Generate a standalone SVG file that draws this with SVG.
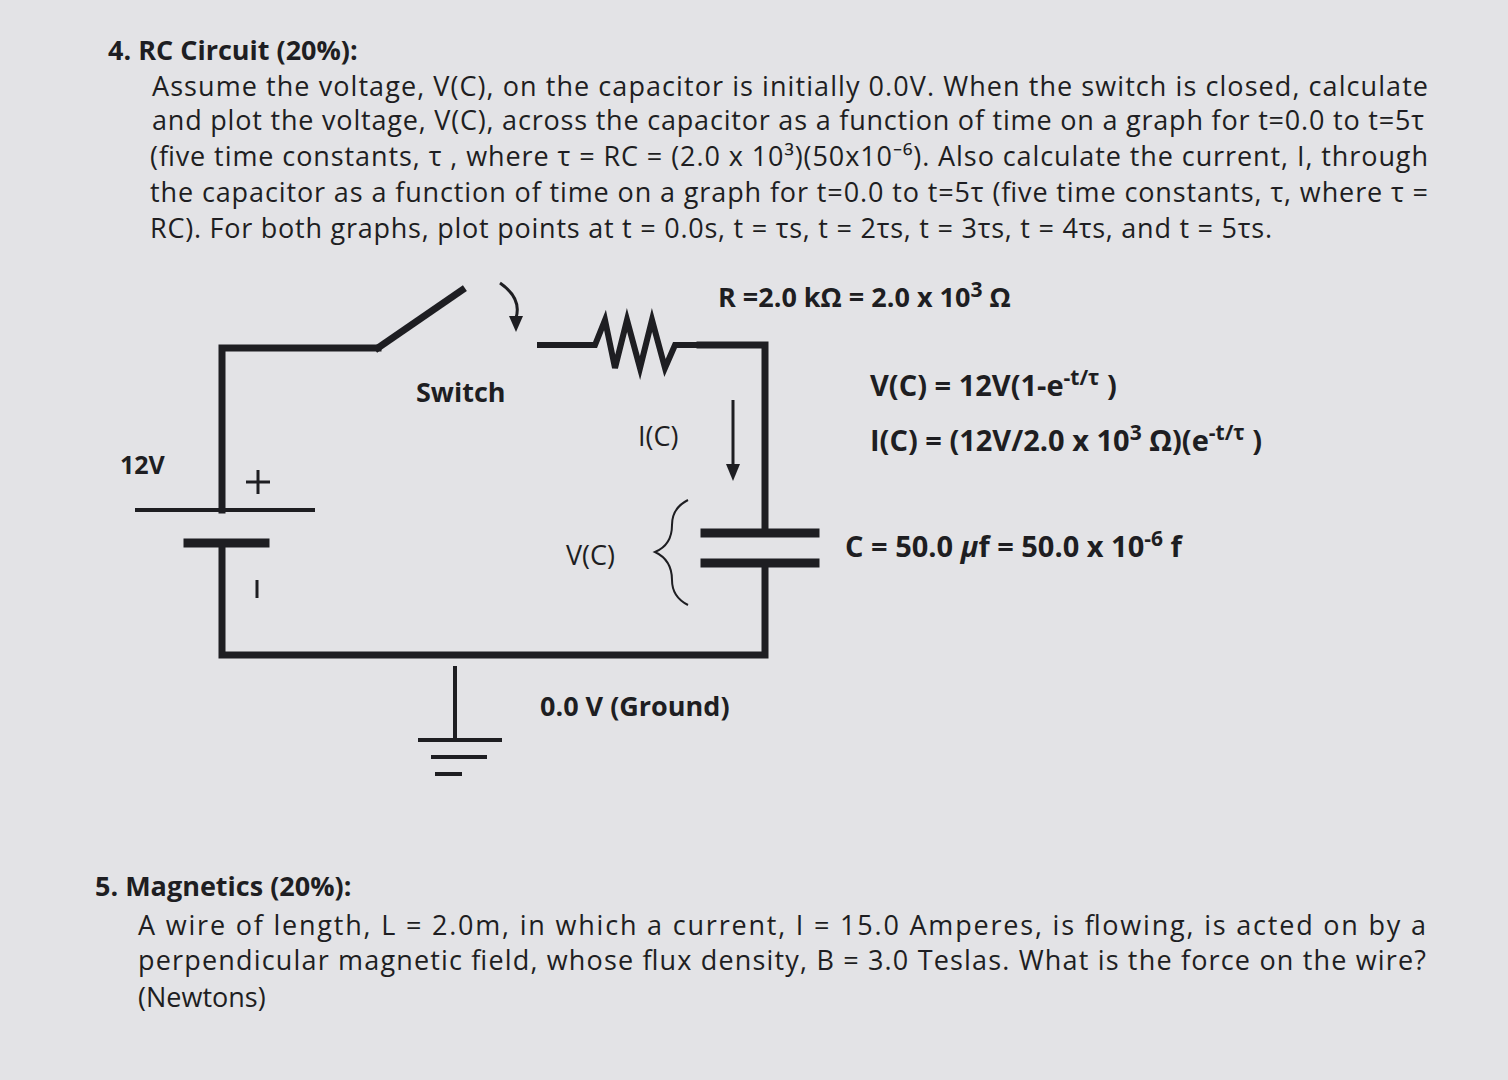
<svg xmlns="http://www.w3.org/2000/svg" width="1508" height="1080" viewBox="0 0 1508 1080">
<style>
text{font-family:"Open Sans","Noto Sans","Liberation Sans",sans-serif;fill:#1e1e22;font-size:27px}
.b{font-weight:bold}
.f{font-size:29px}
.w{stroke:#1e1e22;stroke-width:7;fill:none;stroke-linecap:square}
.t{stroke:#1e1e22;stroke-width:3;fill:none}
.h{fill:#1e1e22}
</style>
<rect width="1508" height="1080" fill="#e3e3e6"/>
<g id="q4-text">
<text x="108" y="60" class="b">4.  RC Circuit (20%):</text>
<text x="152" y="96" textLength="1276">Assume the voltage, V(C), on the capacitor is initially 0.0V. When the switch is closed, calculate</text>
<text x="152" y="130" textLength="1272">and plot the voltage, V(C), across the capacitor as a function of time on a graph for t=0.0 to t=5τ</text>
<text x="150" y="166" textLength="1278">(five time constants, τ , where τ = RC = (2.0 x 10³)(50x10⁻⁶). Also calculate the current, I, through</text>
<text x="150" y="202" textLength="1278">the capacitor as a function of time on a graph for t=0.0 to t=5τ (five time constants, τ, where τ =</text>
<text x="150" y="238" textLength="1122">RC). For both graphs, plot points at t = 0.0s, t = τs, t = 2τs, t = 3τs, t = 4τs, and t = 5τs.</text>
</g>
<g id="connectors">
<polyline class="w" points="378,348 222,348 222,510"/>
<line class="w" x1="378" y1="348" x2="462" y2="290"/>
<line class="w" x1="137" y1="510" x2="313" y2="510" style="stroke-width:4"/>
<line class="w" x1="188" y1="543" x2="265" y2="543" style="stroke-width:9"/>
<polyline class="w" points="222,543 222,655 765,655 765,563"/>
<polyline class="w" points="765,533 765,345 700,345"/>
<polyline class="w" points="540,345 595,345 605,320 615,368 627,320 640,368 652,320 665,368 675,345 700,345" style="stroke-width:6;stroke-linejoin:miter"/>
<line class="w" x1="705" y1="533" x2="815" y2="533" style="stroke-width:9"/>
<line class="w" x1="705" y1="563" x2="815" y2="563" style="stroke-width:9"/>
<line class="w" x1="455" y1="668" x2="455" y2="737" style="stroke-width:4"/>
<line class="w" x1="420" y1="740" x2="500" y2="740" style="stroke-width:4"/>
<line class="w" x1="433" y1="757" x2="485" y2="757" style="stroke-width:4"/>
<line class="w" x1="437" y1="774" x2="460" y2="774" style="stroke-width:4"/>
<path class="t" d="M500,283 Q522,298 516,318"/>
<path class="h" d="M509,316 L523,316 L516,332 Z"/>
<line class="t" x1="733" y1="400" x2="733" y2="466"/>
<path class="h" d="M726,464 L740,464 L733,481 Z"/>
<path class="t" d="M688,500 Q672,508 672,525 Q672,545 655,552 Q672,560 672,580 Q672,597 688,605" style="stroke-width:2"/>
<line class="t" x1="258" y1="470" x2="258" y2="494"/><line class="t" x1="246" y1="482" x2="270" y2="482"/>
<line class="t" x1="257" y1="580" x2="257" y2="598"/>
</g>
<g id="labels">
<text x="120" y="474" class="b" style="font-size:25px">12V</text>
<text x="416" y="402" class="b">Switch</text>
<text x="638" y="446">I(C)</text>
<text x="566" y="565">V(C)</text>
<text x="540" y="716" class="b">0.0 V (Ground)</text>
<text x="718" y="307" class="b">R =2.0 kΩ = 2.0 x 10<tspan dy="-10" font-size="21">3</tspan><tspan dy="10"> Ω</tspan></text>
<text x="870" y="396" class="b f">V(C) = 12V(1-e<tspan dy="-11" font-size="21">-t/τ</tspan><tspan dy="11"> )</tspan></text>
<text x="870" y="451" class="b f">I(C) = (12V/2.0 x 10<tspan dy="-11" font-size="21">3</tspan><tspan dy="11"> Ω)(e</tspan><tspan dy="-11" font-size="21">-t/τ</tspan><tspan dy="11"> )</tspan></text>
<text x="845" y="557" class="b f">C = 50.0 <tspan font-style="italic">μ</tspan>f = 50.0 x 10<tspan dy="-11" font-size="21">-6</tspan><tspan dy="11"> f</tspan></text>
</g>
<g id="q5-text">
<text x="95" y="896" class="b">5.  Magnetics (20%):</text>
<text x="138" y="935" textLength="1288">A wire of length, L = 2.0m, in which a current, I = 15.0 Amperes, is flowing,  is acted on by a</text>
<text x="138" y="970" textLength="1288">perpendicular magnetic field, whose flux density, B = 3.0 Teslas. What is the force on the wire?</text>
<text x="138" y="1007">(Newtons)</text>
</g>
</svg>
